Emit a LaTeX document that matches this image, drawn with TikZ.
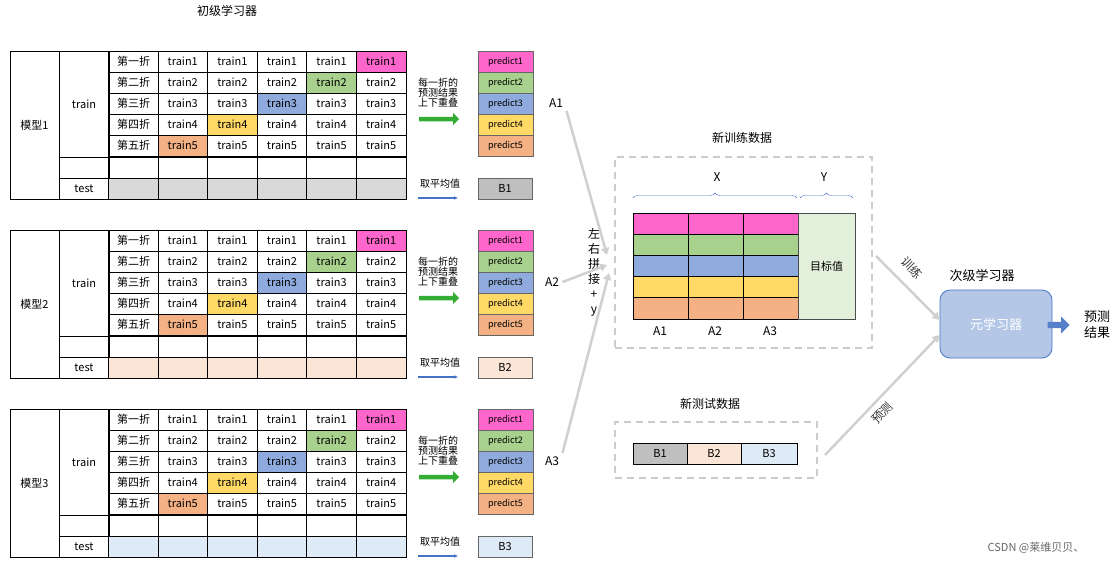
\documentclass[tikz,border=0pt]{standalone}
\usepackage{fontspec}
\setmainfont{Noto Sans CJK SC}
\usetikzlibrary{arrows.meta,decorations.pathreplacing,shapes.arrows}
\definecolor{cpink}{HTML}{FF66CC}
\definecolor{cgreen}{HTML}{A9D18E}
\definecolor{cblue}{HTML}{8FAADC}
\definecolor{cyel}{HTML}{FFD966}
\definecolor{corg}{HTML}{F4B183}
\definecolor{tA}{HTML}{D9D9D9}
\definecolor{tB}{HTML}{FBE5D6}
\definecolor{tC}{HTML}{DEEBF7}
\definecolor{bA}{HTML}{BFBFBF}
\definecolor{tgt}{HTML}{E2EFDA}
\definecolor{meta}{HTML}{B4C7E7}
\definecolor{metab}{HTML}{4472C4}
\definecolor{garrow}{HTML}{D0D0D0}
\begin{document}
\begin{tikzpicture}[x=1pt,y=-1pt,font=\fontsize{11}{13}\selectfont,
  cell/.style={draw,line width=0.7pt,minimum width=49.5pt,minimum height=21pt,inner sep=0pt,anchor=center},
  pcell/.style={draw=black!60,line width=0.7pt,minimum width=55pt,minimum height=21pt,inner sep=0pt,font=\fontsize{9}{10}\selectfont},
  gray arrow/.style={draw=garrow,line width=2.5pt,-{Triangle[length=7pt,width=8pt]}},
  dashbox/.style={draw=black!20,line width=2pt,dash pattern=on 7pt off 5pt},
  brc/.style={draw=metab,decorate,decoration={brace,amplitude=5pt}}]
\useasboundingbox (0,0) rectangle (1114,568);
\node[font=\fontsize{12}{14}\selectfont] (title1) at (227,11) {初级学习器};
\foreach \t/\oy/\tc in {1/0/tA,2/179/tB,3/358/tC}{
  \pgfmathsetmacro{\yz}{51+\oy}
  \node[cell,minimum width=49pt,minimum height=148pt] (mod\t) at (34.5,\yz+74) {模型\t};
  \node[cell,minimum width=50pt,minimum height=106pt] (tr\t) at (84,\yz+53) {train};
  \node[cell,minimum width=50pt] (bl\t) at (84,\yz+116.5) {};
  \node[cell,minimum width=50pt] (te\t) at (84,\yz+137.5) {test};
  \foreach \r/\fn in {1/第一折,2/第二折,3/第三折,4/第四折,5/第五折}{
    \node[cell] (f\t-\r) at (133.5,\yz+10.5+21*\r-21) {\fn};
    \foreach \c in {1,...,5}{
      \pgfmathtruncatemacro{\hc}{6-\r}
      \ifnum\c=\hc
        \ifcase\r\or\def\fc{cpink}\or\def\fc{cgreen}\or\def\fc{cblue}\or\def\fc{cyel}\or\def\fc{corg}\fi
      \else\def\fc{white}\fi
      \node[cell,fill=\fc] (c\t-\r-\c) at (158+24.75+49.6*\c-49.6,\yz+10.5+21*\r-21) {train\r};
    }
  }
  \foreach \c in {0,...,5}{
    \node[cell] (b\t-\c) at (158+24.75+49.6*\c-49.6,\yz+116.5) {};
    \node[cell,fill=\tc] (tt\t-\c) at (158+24.75+49.6*\c-49.6,\yz+137.5) {};
  }
  \foreach \r/\fc in {1/cpink,2/cgreen,3/cblue,4/cyel,5/corg}{
    \node[pcell,fill=\fc] (p\t-\r) at (505.5,\yz+10.5+21*\r-21) {predict\r};
  }
  \ifcase\t\or\def\bc{bA}\or\def\bc{tB}\or\def\bc{tC}\fi
  \node[pcell,minimum width=54pt,fill=\bc,font=\fontsize{11}{12}\selectfont] (B\t) at (505,\yz+137.5) {B\t};
  \node[align=center,inner sep=0pt,font=\fontsize{10}{12}\selectfont] (txt\t) at (438,\yz+42) {每一折的\\[-2pt]预测结果\\[-2pt]上下重叠};
  \node[single arrow,fill=green!60!black!80,draw=none,minimum height=40pt,minimum width=12pt,single arrow head extend=2pt,inner sep=1pt] (ga\t) at (438,\yz+68) {};
  \node[font=\fontsize{10}{12}\selectfont] (avg\t) at (440,\yz+133) {取平均值};
  \coordinate (bs\t) at (418,\yz+147);
  \coordinate (be\t) at (458,\yz+147);
  \draw[metab,line width=1.2pt,-{Triangle[length=4pt,width=3pt]}] (bs\t) -- (be\t);
}
\node[font=\fontsize{12}{14}\selectfont] (A1) at (556,103) {A1};
\node[font=\fontsize{12}{14}\selectfont] (A2) at (552,282) {A2};
\node[font=\fontsize{12}{14}\selectfont] (A3) at (552,461) {A3};
\node[align=center,inner sep=0pt,font=\fontsize{12}{15}\selectfont] (join) at (594,272) {左\\右\\拼\\接\\+\\y};
\coordinate (j1) at (607,255);
\coordinate (j2) at (607,265);
\coordinate (j3) at (609,273);
\draw[gray arrow] (A1.south east) -- (j1);
\draw[gray arrow] (A2.east) -- (j2);
\draw[gray arrow] (A3.north east) -- (j3);
% new training data
\node[dashbox,minimum width=257pt,minimum height=191pt] (trbox) at (743.5,252.5) {};
\node[font=\fontsize{12}{14}\selectfont] (trt) at (742,138) {新训练数据};
\node[font=\fontsize{12}{14}\selectfont] (X) at (717,177) {X};
\node[font=\fontsize{12}{14}\selectfont] (Y) at (824,177) {Y};
\coordinate (bx1) at (633,198);\coordinate (bx2) at (797,198);
\coordinate (by1) at (800,198);\coordinate (by2) at (853,198);
\draw[brc] (bx1) -- (bx2);
\draw[brc] (by1) -- (by2);
\foreach \r/\fc in {1/cpink,2/cgreen,3/cblue,4/cyel,5/corg}{
  \foreach \c in {1,2,3}{
    \node[draw,line width=0.7pt,fill=\fc,minimum width=55pt,minimum height=21.2pt,inner sep=0pt] (g\r-\c) at (605.5+55*\c,223.6+21.2*\r-21.2) {};
  }
}
\node[draw=black!70,line width=0.8pt,fill=tgt,minimum width=57pt,minimum height=106pt,inner sep=0pt] (tgt) at (826.5,266) {目标值};
\node[font=\fontsize{12}{14}\selectfont] (la1) at (660,331) {A1};
\node[font=\fontsize{12}{14}\selectfont] (la2) at (715,331) {A2};
\node[font=\fontsize{12}{14}\selectfont] (la3) at (770,331) {A3};
% new test data
\node[dashbox,minimum width=202pt,minimum height=56pt] (tebox) at (716,450) {};
\node[font=\fontsize{12}{14}\selectfont] (tet) at (710,404) {新测试数据};
\node[draw,line width=0.7pt,fill=bA,minimum width=54pt,minimum height=21pt,inner sep=0pt] (nb1) at (660,453.5) {B1};
\node[draw,line width=0.7pt,fill=tB,minimum width=54pt,minimum height=21pt,inner sep=0pt] (nb2) at (714,453.5) {B2};
\node[draw,line width=0.7pt,fill=tC,minimum width=56pt,minimum height=21pt,inner sep=0pt] (nb3) at (769,453.5) {B3};
% meta learner
\node[font=\fontsize{13}{15}\selectfont] (sec) at (982,276) {次级学习器};
\node[draw=metab,line width=0.8pt,fill=meta,rounded corners=10pt,minimum width=112pt,minimum height=68pt,text=white,font=\fontsize{13}{15}\selectfont] (meta) at (996,324) {元学习器};
\coordinate (tr0) at (876,256);
\coordinate (te0) at (825,455);
\draw[gray arrow] (tr0) -- (meta.west |- 0,320);
\draw[gray arrow] (te0) -- (meta.west |- 0,335);
\node[rotate=-45,text=black!80,font=\fontsize{12}{14}\selectfont] (lbtr) at (912,268) {训练};
\node[rotate=48,text=black!80,font=\fontsize{12}{14}\selectfont] (lbte) at (882,413) {预测};
\node[single arrow,fill=metab!90,draw=none,minimum height=22pt,minimum width=17pt,single arrow head extend=2pt,inner sep=1pt] (ra) at (1057,325) {};
\node[align=center,inner sep=0pt,font=\fontsize{13}{16}\selectfont] (res) at (1097,325) {预测\\结果};
\node[text=black!60,font=\fontsize{11}{13}\selectfont] (wm) at (1036,548) {CSDN @莱维贝贝、};
\end{tikzpicture}
\end{document}
